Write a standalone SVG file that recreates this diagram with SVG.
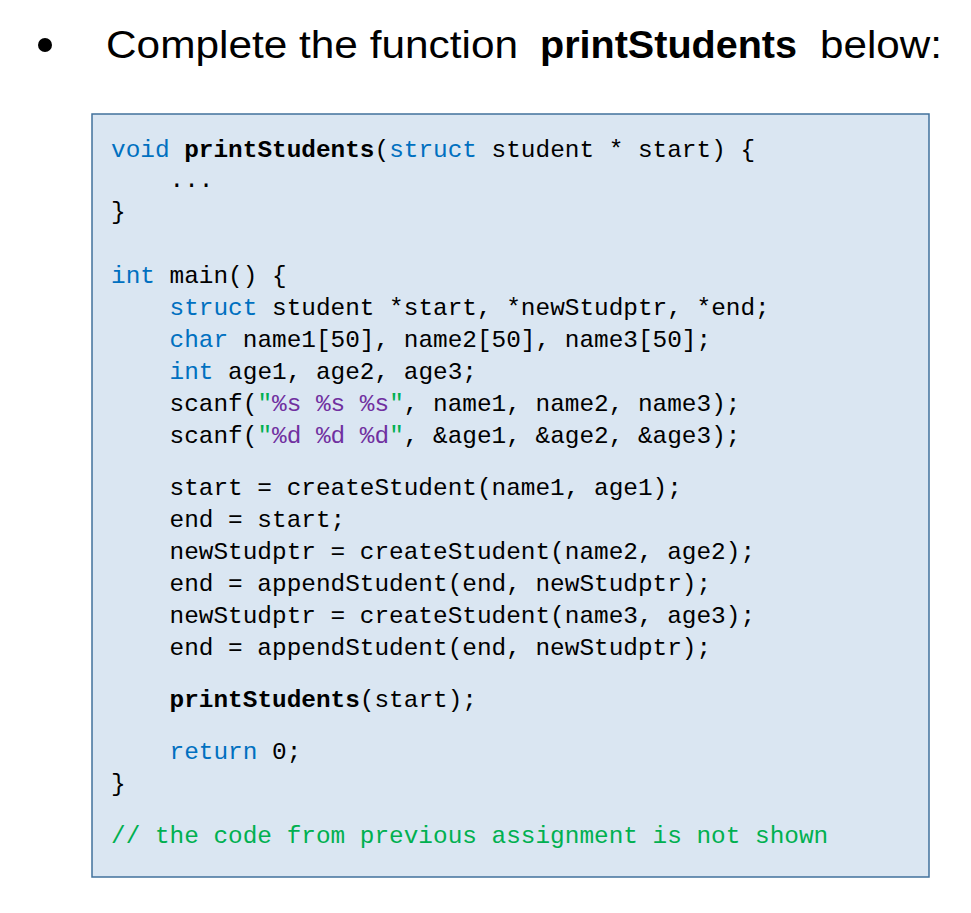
<svg xmlns="http://www.w3.org/2000/svg" width="971" height="913" viewBox="0 0 971 913">
<style>
.t{font-family:"Liberation Sans",Arial,sans-serif;font-size:38px;fill:#000}
.c{font-family:"Liberation Mono","DejaVu Sans Mono",monospace;font-size:24.4px;fill:#000;white-space:pre}
.k{fill:#0070c0}.s{fill:#00b050}.f{fill:#7030a0}.b{font-weight:bold}
</style>
<rect width="971" height="913" fill="#fff"/>
<g id="title">
<circle cx="45" cy="45" r="7" fill="#000"/>
<text class="t" x="106" y="58" textLength="412" lengthAdjust="spacingAndGlyphs">Complete the function</text>
<text class="t" x="540" y="58" font-weight="bold" textLength="257" lengthAdjust="spacingAndGlyphs">printStudents</text>
<text class="t" x="820" y="58" textLength="122" lengthAdjust="spacingAndGlyphs">below:</text>
</g>
<g id="code">
<rect x="92" y="114" width="837" height="763" fill="#dae6f2" stroke="#41719c" stroke-width="1.5"/>
<text class="c" x="111" y="157"><tspan class="k">void</tspan> <tspan class="b">printStudents</tspan>(<tspan class="k">struct</tspan> student * start) {</text>
<text class="c" x="111" y="187">    ...</text>
<text class="c" x="111" y="219">}</text>
<text class="c" x="111" y="283"><tspan class="k">int</tspan> main() {</text>
<text class="c" x="111" y="315">    <tspan class="k">struct</tspan> student *start, *newStudptr, *end;</text>
<text class="c" x="111" y="347">    <tspan class="k">char</tspan> name1[50], name2[50], name3[50];</text>
<text class="c" x="111" y="379">    <tspan class="k">int</tspan> age1, age2, age3;</text>
<text class="c" x="111" y="411">    scanf(<tspan class="s">"</tspan><tspan class="f">%s %s %s</tspan><tspan class="s">"</tspan>, name1, name2, name3);</text>
<text class="c" x="111" y="443">    scanf(<tspan class="s">"</tspan><tspan class="f">%d %d %d</tspan><tspan class="s">"</tspan>, &amp;age1, &amp;age2, &amp;age3);</text>
<text class="c" x="111" y="495">    start = createStudent(name1, age1);</text>
<text class="c" x="111" y="527">    end = start;</text>
<text class="c" x="111" y="559">    newStudptr = createStudent(name2, age2);</text>
<text class="c" x="111" y="591">    end = appendStudent(end, newStudptr);</text>
<text class="c" x="111" y="623">    newStudptr = createStudent(name3, age3);</text>
<text class="c" x="111" y="655">    end = appendStudent(end, newStudptr);</text>
<text class="c" x="111" y="707">    <tspan class="b">printStudents</tspan>(start);</text>
<text class="c" x="111" y="759">    <tspan class="k">return</tspan> 0;</text>
<text class="c" x="111" y="791">}</text>
<text class="c s" x="111" y="843">// the code from previous assignment is not shown</text>
</g>
</svg>
